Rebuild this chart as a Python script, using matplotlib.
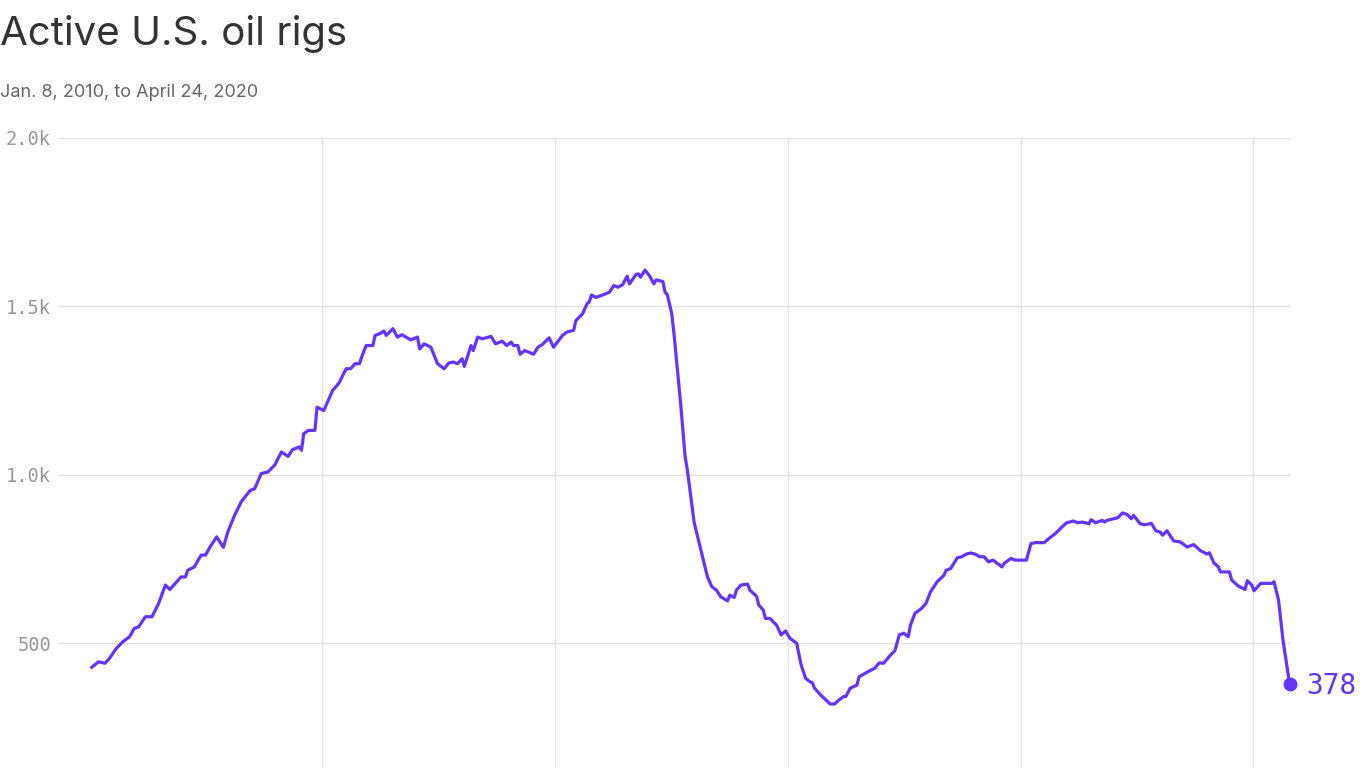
#!/usr/bin/env python3
"""Active U.S. oil rigs, weekly count from Jan. 8, 2010 to April 24, 2020."""
import matplotlib
matplotlib.use("Agg")
import matplotlib.pyplot as plt
import pandas as pd

# weeks after 2010-01-08 and the rig count
weeks = [
    0, 3, 6, 8, 11, 14, 17, 19, 21, 24, 27, 30, 33, 35, 40, 42, 43, 46, 49, 51,
    53, 56, 59, 61, 64, 67, 71, 73, 76, 79, 82, 85, 88, 90, 93, 94, 95, 97, 100, 101,
    104, 108, 110, 111, 114, 116, 118, 120, 121, 123, 126, 127, 129, 131, 132, 135, 137, 139, 143, 146,
    147, 149, 152, 155, 158, 160, 162, 164, 166, 167, 169, 170, 171, 173, 175, 179, 181, 184, 186, 188,
    189, 191, 192, 194, 196, 198, 200, 202, 205, 207, 211, 213, 216, 217, 220, 222, 223, 224, 226, 229,
    232, 234, 236, 238, 240, 241, 244, 245, 246, 248, 250, 252, 253, 256, 257, 258, 260, 261, 263, 264,
    266, 267, 270, 272, 276, 278, 280, 282, 285, 286, 288, 289, 291, 294, 295, 298, 299, 301, 302, 304,
    307, 309, 311, 313, 316, 318, 320, 322, 323, 324, 327, 331, 333, 335, 337, 338, 340, 343, 344, 348,
    351, 353, 355, 358, 360, 362, 364, 366, 367, 369, 372, 374, 376, 379, 382, 383, 385, 388, 390, 392,
    394, 396, 398, 400, 402, 404, 408, 409, 412, 414, 417, 419, 421, 423, 427, 429, 432, 435, 437, 440,
    442, 444, 447, 448, 450, 453, 454, 455, 458, 460, 462, 464, 466, 467, 470, 472, 475, 477, 479, 480,
    482, 485, 488, 491, 494, 497, 500, 501, 503, 505, 506, 510, 511, 514, 517, 518, 520, 521, 524, 529,
    530, 532, 534, 537,
]
rigs = [
    429, 445, 441, 456, 485, 505, 520, 544, 549, 579, 579, 619, 673, 660, 697, 697, 717, 727, 762, 762,
    786, 816, 785, 831, 880, 920, 954, 959, 1004, 1009, 1029, 1068, 1055, 1075, 1083, 1073, 1122, 1132, 1132, 1201,
    1191, 1251, 1266, 1275, 1315, 1315, 1330, 1330, 1350, 1384, 1384, 1414, 1419, 1427, 1414, 1434, 1409, 1416, 1401, 1409,
    1374, 1389, 1379, 1330, 1315, 1332, 1335, 1330, 1345, 1322, 1364, 1384, 1369, 1409, 1404, 1411, 1389, 1397, 1384, 1394,
    1384, 1384, 1358, 1369, 1364, 1358, 1379, 1387, 1407, 1379, 1414, 1424, 1429, 1458, 1478, 1508, 1513, 1534, 1527, 1534,
    1542, 1562, 1557, 1565, 1590, 1567, 1595, 1597, 1587, 1608, 1591, 1567, 1579, 1574, 1542, 1535, 1478, 1419, 1280, 1210,
    1053, 1014, 860, 806, 697, 668, 658, 638, 626, 643, 636, 658, 673, 676, 658, 640, 614, 599, 574, 574,
    554, 525, 537, 515, 500, 436, 396, 386, 383, 367, 345, 320, 320, 332, 342, 342, 367, 376, 401, 416,
    426, 442, 441, 465, 478, 525, 530, 520, 554, 589, 604, 619, 653, 683, 702, 717, 722, 754, 757, 765,
    768, 765, 757, 757, 742, 747, 727, 737, 752, 747, 747, 747, 796, 799, 799, 811, 826, 846, 858, 863,
    858, 860, 855, 867, 858, 865, 860, 865, 870, 873, 887, 883, 870, 880, 855, 852, 856, 834, 830, 821,
    834, 804, 801, 786, 793, 775, 765, 769, 739, 727, 712, 712, 688, 670, 660, 686, 673, 656, 678, 678,
    683, 628, 510, 378,
]
start_date = "2010-01-08"
y_ticks = [500, 1000, 1500, 2000]
y_tick_labels = ["500", "1.0k", "1.5k", "2.0k"]
grid_years = ["2012-01-01", "2014-01-01", "2016-01-01", "2018-01-01", "2020-01-01"]

dates = pd.Timestamp(start_date) + pd.to_timedelta([w * 7 for w in weeks], unit="D")

purple = "#6433ff"

fig = plt.figure(figsize=(13.66, 7.68), dpi=100)
ax = fig.add_axes([58 / 1366, 0, (1290 - 58) / 1366, 1 - 138 / 768])

ax.plot(dates, rigs, color=purple, linewidth=2.3, solid_joinstyle="round", zorder=3)
ax.plot(dates[-1], rigs[-1], "o", color=purple, markersize=9, zorder=4, clip_on=False)
ax.annotate(str(rigs[-1]), (dates[-1], rigs[-1]), xytext=(12, -1), textcoords="offset points",
            va="center", ha="left", fontsize=20, fontfamily="DejaVu Sans Mono", color=purple,
            annotation_clip=False)

ax.set_ylim(130, 2000)
ax.set_xlim(pd.Timestamp("2009-09-24"), pd.Timestamp("2020-04-25"))

ax.set_yticks(y_ticks)
ax.set_yticklabels(y_tick_labels, fontfamily="DejaVu Sans Mono", fontsize=13.5, color="#969696")
ax.set_xticks(pd.to_datetime(grid_years))
ax.set_xticklabels([])
ax.tick_params(length=0, pad=5)
ax.grid(True, color="#e2e2e2", linewidth=1)
ax.set_axisbelow(True)
for s in ax.spines.values():
    s.set_visible(False)

fig.text(0, 1 - 45 / 768, "Active U.S. oil rigs", fontsize=29, fontfamily="Inter",
         color="#333333", va="baseline", ha="left")
fig.text(0, 1 - 97 / 768, "Jan. 8, 2010, to April 24, 2020", fontsize=13, fontfamily="Inter",
         color="#666666", va="baseline", ha="left")

fig.savefig("out.png", dpi=100)
